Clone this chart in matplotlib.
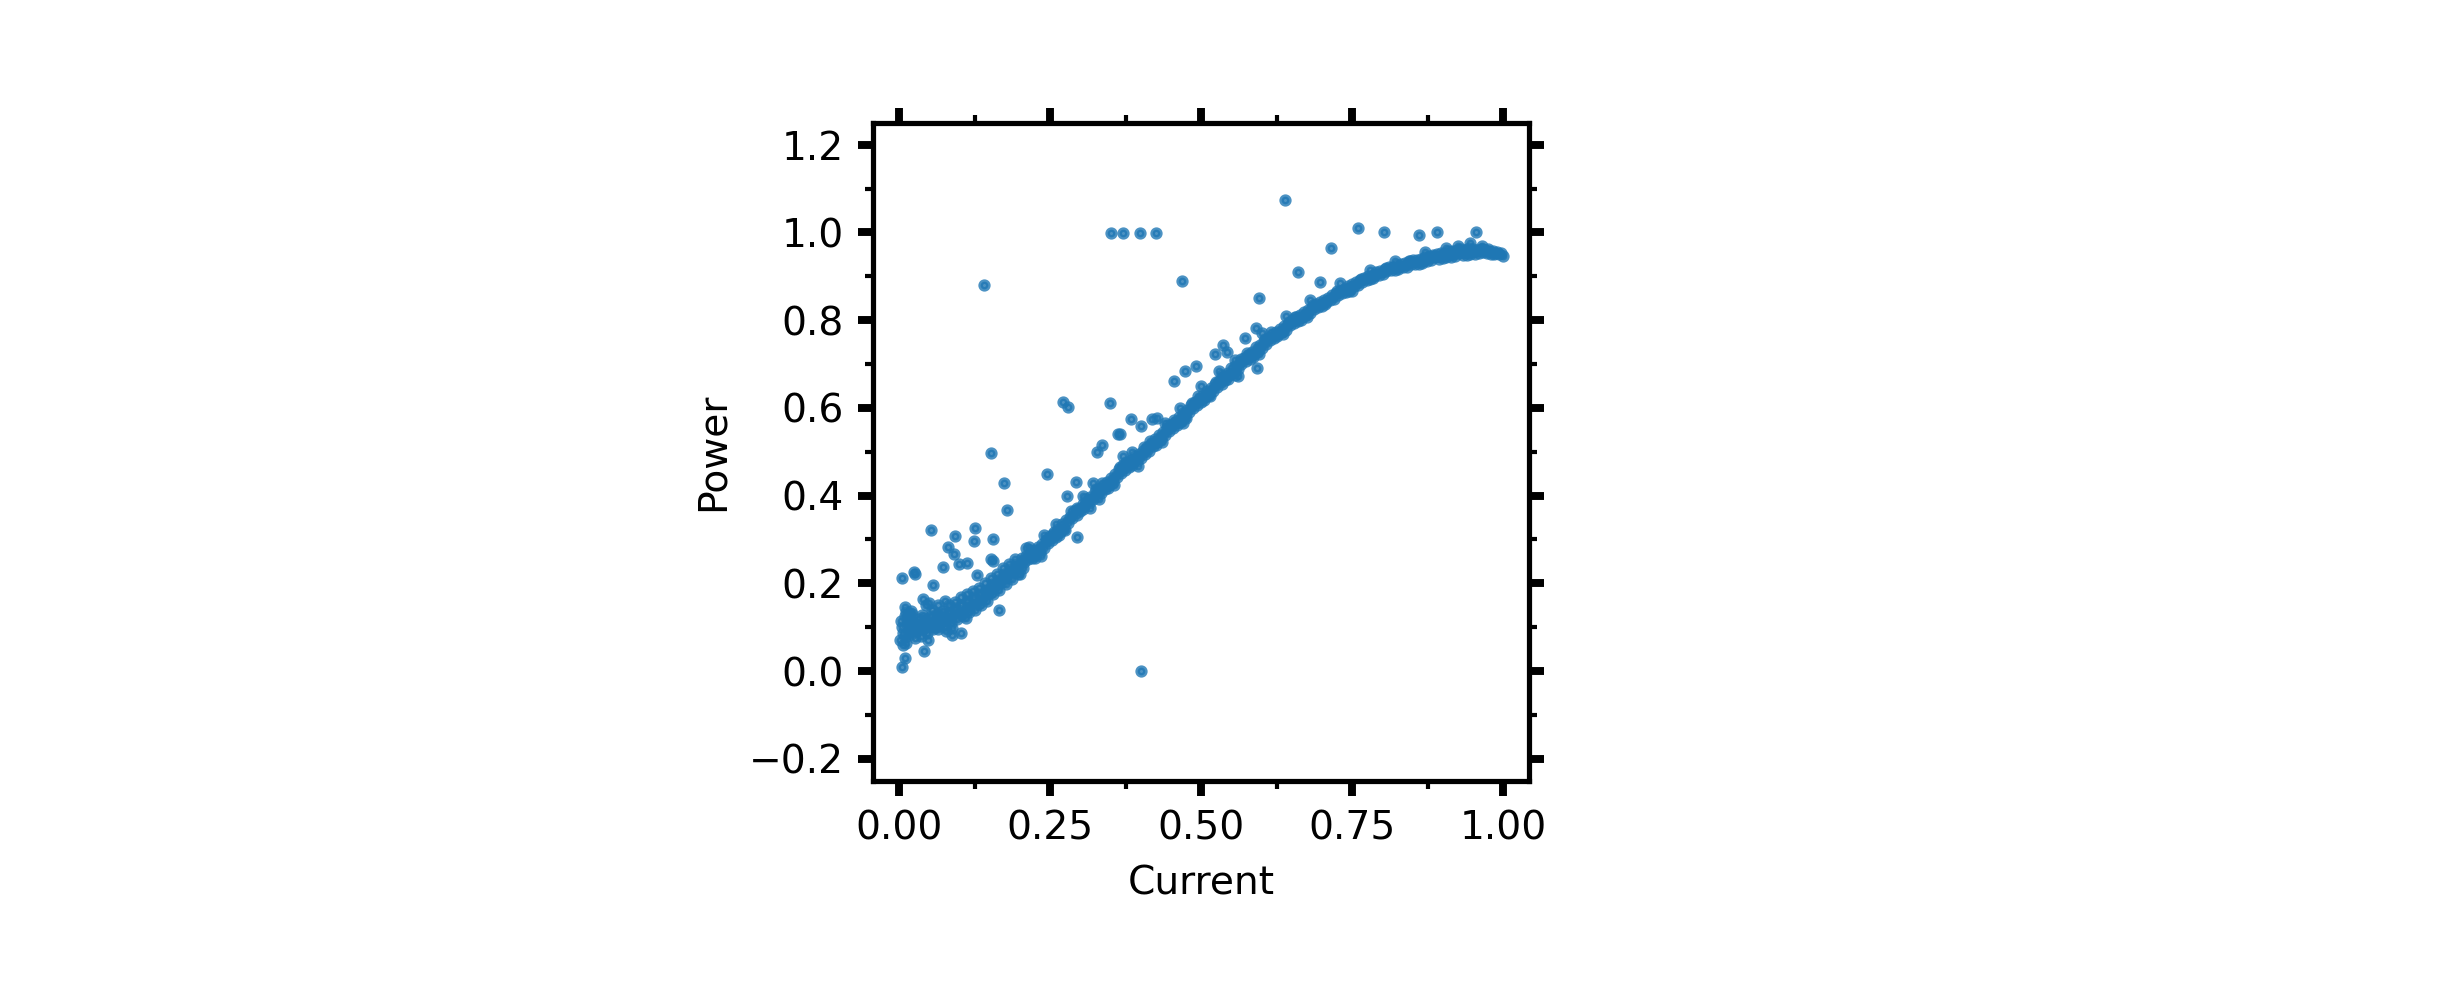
import matplotlib
matplotlib.use("Agg")
import matplotlib.pyplot as plt
from matplotlib.ticker import MultipleLocator

# ---- main band ----
band_current = [
    0.002, 0.004, 0.007, 0.003, 0.006, 0.009,
    0.010, 0.013, 0.016, 0.012, 0.015, 0.018,
    0.020, 0.023, 0.026, 0.022, 0.025, 0.028,
    0.030, 0.033, 0.036, 0.032, 0.035, 0.038,
    0.040, 0.043, 0.046, 0.042, 0.045, 0.048,
    0.050, 0.053, 0.056, 0.052, 0.055, 0.058,
    0.060, 0.063, 0.066, 0.062, 0.065, 0.068,
    0.070, 0.073, 0.076, 0.072, 0.075, 0.078,
    0.080, 0.083, 0.086, 0.082, 0.085, 0.088,
    0.090, 0.093, 0.096, 0.092, 0.095,
    0.100, 0.103, 0.106, 0.102, 0.105,
    0.110, 0.113, 0.116, 0.112, 0.115,
    0.120, 0.123, 0.126, 0.122, 0.125,
    0.130, 0.133, 0.136, 0.132, 0.135,
    0.140, 0.143, 0.146, 0.142, 0.145,
    0.150, 0.153, 0.156, 0.152, 0.155,
    0.160, 0.163, 0.166, 0.162, 0.165,
    0.170, 0.173, 0.176, 0.172, 0.175,
    0.180, 0.183, 0.186, 0.182, 0.185,
    0.190, 0.193, 0.196, 0.192, 0.195,
    0.200, 0.2035, 0.2065, 0.210, 0.2135, 0.2165,
    0.220, 0.2235, 0.2265, 0.230, 0.2335, 0.2365,
    0.240, 0.2435, 0.2465, 0.250, 0.2535, 0.2565,
    0.260, 0.2635, 0.2665, 0.270, 0.2735, 0.2765,
    0.280, 0.2835, 0.2865, 0.290, 0.2935, 0.2965,
    0.300, 0.3035, 0.3065, 0.310, 0.3135, 0.3165,
    0.320, 0.3235, 0.3265, 0.330, 0.3335, 0.3365,
    0.340, 0.3435, 0.3465, 0.350, 0.3535, 0.3565,
    0.360, 0.3635, 0.3665, 0.370, 0.3735, 0.3765,
    0.380, 0.3835, 0.3865, 0.390, 0.3935, 0.3965,
    0.400, 0.4035, 0.4065, 0.410, 0.4135, 0.4165,
    0.420, 0.4235, 0.4265, 0.430, 0.4335, 0.4365,
    0.440, 0.4435, 0.4465, 0.450, 0.4535, 0.4565,
    0.460, 0.4635, 0.4665, 0.470, 0.4735, 0.4765,
    0.480, 0.4835, 0.4865, 0.490, 0.4935, 0.4965,
    0.500, 0.5035, 0.5065, 0.510, 0.5135, 0.5165,
    0.520, 0.5235, 0.5265, 0.530, 0.5335, 0.5365,
    0.540, 0.5435, 0.5465, 0.550, 0.5535, 0.5565,
    0.560, 0.5635, 0.5665, 0.570, 0.5735, 0.5765,
    0.580, 0.5835, 0.5865, 0.590, 0.5935, 0.5965,
    0.600, 0.6035, 0.6065, 0.610, 0.6135, 0.6165,
    0.620, 0.6235, 0.6265, 0.630, 0.6335, 0.6365,
    0.640, 0.6435, 0.6465, 0.650, 0.6535, 0.6565,
    0.660, 0.6635, 0.6665, 0.670, 0.6735, 0.6765,
    0.680, 0.6835, 0.6865, 0.690, 0.6935, 0.6965,
    0.700, 0.7035, 0.7065, 0.710, 0.7135, 0.7165,
    0.720, 0.7235, 0.7265, 0.730, 0.7335, 0.7365,
    0.740, 0.7435, 0.7465, 0.750, 0.7535, 0.7565,
    0.760, 0.7635, 0.7665, 0.770, 0.7735, 0.7765,
    0.780, 0.7835, 0.7865, 0.790, 0.7935, 0.7965,
    0.800, 0.8035, 0.8065, 0.810, 0.8135, 0.8165,
    0.820, 0.8235, 0.8265, 0.830, 0.8335, 0.8365,
    0.840, 0.8435, 0.8465, 0.850, 0.8535, 0.8565,
    0.860, 0.8635, 0.8665, 0.870, 0.8735, 0.8765,
    0.880, 0.8835, 0.8865, 0.890, 0.8935, 0.8965,
    0.900, 0.9035, 0.9065, 0.910, 0.9135, 0.9165,
    0.920, 0.9235, 0.9265, 0.930, 0.9335, 0.9365,
    0.940, 0.9435, 0.9465, 0.950, 0.9535, 0.9565,
    0.960, 0.9635, 0.9665, 0.970, 0.9735, 0.9765,
    0.980, 0.9835, 0.9865, 0.990, 0.9935, 0.9965,
    1.000,
]
band_power = [
    0.070, 0.100, 0.060, 0.115, 0.088, 0.125,
    0.078, 0.108, 0.090, 0.065, 0.120, 0.100,
    0.085, 0.112, 0.075, 0.130, 0.098, 0.105,
    0.092, 0.118, 0.080, 0.105, 0.098, 0.128,
    0.095, 0.112, 0.088, 0.122, 0.100, 0.070,
    0.100, 0.125, 0.095, 0.112, 0.140, 0.105,
    0.100, 0.122, 0.108, 0.130, 0.095, 0.118,
    0.112, 0.128, 0.100, 0.138, 0.118, 0.092,
    0.118, 0.135, 0.110, 0.150, 0.125, 0.098,
    0.125, 0.145, 0.118, 0.158, 0.135,
    0.132, 0.150, 0.125, 0.168, 0.140,
    0.140, 0.160, 0.135, 0.175, 0.150,
    0.148, 0.168, 0.140, 0.182, 0.158,
    0.152, 0.175, 0.150, 0.190, 0.165,
    0.165, 0.185, 0.160, 0.200, 0.178,
    0.178, 0.198, 0.175, 0.212, 0.190,
    0.190, 0.208, 0.185, 0.222, 0.200,
    0.202, 0.222, 0.198, 0.235, 0.212,
    0.215, 0.232, 0.210, 0.245, 0.225,
    0.228, 0.245, 0.222, 0.255, 0.238,
    0.240, 0.258, 0.248, 0.262, 0.255, 0.270,
    0.258, 0.276, 0.268, 0.282, 0.272, 0.290,
    0.280, 0.298, 0.292, 0.308, 0.298, 0.316,
    0.306, 0.325, 0.318, 0.336, 0.325, 0.345,
    0.338, 0.352, 0.348, 0.365, 0.355, 0.370,
    0.366, 0.382, 0.376, 0.392, 0.384, 0.398,
    0.392, 0.408, 0.400, 0.416, 0.406, 0.422,
    0.415, 0.432, 0.425, 0.440, 0.430, 0.450,
    0.442, 0.460, 0.452, 0.470, 0.458, 0.472,
    0.466, 0.482, 0.476, 0.490, 0.480, 0.494,
    0.486, 0.502, 0.496, 0.510, 0.502, 0.518,
    0.512, 0.528, 0.522, 0.538, 0.530, 0.545,
    0.538, 0.555, 0.548, 0.562, 0.554, 0.568,
    0.562, 0.580, 0.572, 0.588, 0.580, 0.595,
    0.590, 0.606, 0.600, 0.614, 0.606, 0.620,
    0.614, 0.630, 0.624, 0.638, 0.630, 0.645,
    0.638, 0.655, 0.648, 0.662, 0.654, 0.670,
    0.664, 0.680, 0.674, 0.690, 0.682, 0.696,
    0.688, 0.705, 0.700, 0.714, 0.706, 0.720,
    0.712, 0.728, 0.722, 0.738, 0.730, 0.744,
    0.737, 0.752, 0.746, 0.760, 0.754, 0.766,
    0.760, 0.774, 0.768, 0.780, 0.774, 0.786,
    0.778, 0.792, 0.788, 0.800, 0.793, 0.806,
    0.797, 0.812, 0.806, 0.818, 0.812, 0.824,
    0.816, 0.830, 0.826, 0.836, 0.830, 0.842,
    0.832, 0.846, 0.842, 0.851, 0.846, 0.858,
    0.849, 0.862, 0.858, 0.867, 0.862, 0.872,
    0.865, 0.878, 0.874, 0.883, 0.878, 0.888,
    0.880, 0.892, 0.888, 0.897, 0.891, 0.900,
    0.893, 0.904, 0.900, 0.909, 0.903, 0.912,
    0.905, 0.916, 0.912, 0.920, 0.914, 0.922,
    0.915, 0.926, 0.921, 0.929, 0.922, 0.930,
    0.922, 0.934, 0.929, 0.936, 0.928, 0.938,
    0.929, 0.940, 0.935, 0.944, 0.934, 0.946,
    0.936, 0.948, 0.943, 0.951, 0.940, 0.953,
    0.942, 0.954, 0.949, 0.957, 0.945, 0.958,
    0.946, 0.960, 0.953, 0.962, 0.948, 0.959,
    0.949, 0.964, 0.956, 0.963, 0.950, 0.960,
    0.952, 0.962, 0.956, 0.960, 0.953, 0.958,
    0.951, 0.958, 0.954, 0.956, 0.950, 0.953,
    0.947,
]

# ---- second row of the band (adds thickness) ----
band2_current = [0.205, 0.225, 0.245, 0.265, 0.285, 0.305, 0.325, 0.345, 0.365,
                 0.385, 0.405, 0.425, 0.445, 0.465, 0.485, 0.505, 0.525, 0.545,
                 0.565, 0.585, 0.605, 0.625, 0.645, 0.665, 0.685, 0.705, 0.725,
                 0.745, 0.765, 0.785, 0.805, 0.825, 0.845, 0.865, 0.885, 0.905,
                 0.925, 0.945, 0.965, 0.985]
band2_power = [0.236, 0.258, 0.300, 0.311, 0.364, 0.369, 0.414, 0.418, 0.466,
               0.469, 0.510, 0.515, 0.560, 0.567, 0.611, 0.617, 0.659, 0.666,
               0.711, 0.716, 0.758, 0.764, 0.796, 0.800, 0.834, 0.836, 0.866,
               0.867, 0.894, 0.895, 0.918, 0.917, 0.935, 0.930, 0.947, 0.944,
               0.957, 0.951, 0.961, 0.950]

# ---- third row, wider spread in the middle of the curve ----
band3_current = [0.215, 0.235, 0.255, 0.275, 0.295, 0.315, 0.335, 0.355, 0.375,
                 0.395, 0.415, 0.435, 0.455, 0.475, 0.495, 0.515, 0.535, 0.555,
                 0.575, 0.595, 0.615, 0.635, 0.655, 0.675]
band3_power = [0.282, 0.262, 0.312, 0.322, 0.372, 0.372, 0.428, 0.424, 0.476,
               0.468, 0.524, 0.522, 0.572, 0.578, 0.626, 0.626, 0.676, 0.676,
               0.724, 0.722, 0.772, 0.768, 0.808, 0.808]

# ---- mild scatter just off the band ----
near_current = [0.210, 0.240, 0.260, 0.305, 0.370, 0.385, 0.440, 0.465, 0.500,
                0.530, 0.555, 0.600, 0.640, 0.680, 0.730, 0.780, 0.820, 0.870,
                0.905, 0.925, 0.945, 0.965, 0.975, 0.200, 0.330, 0.470, 0.560,
                0.750, 0.020, 0.045, 0.075, 0.110]
near_power = [0.280, 0.310, 0.335, 0.400, 0.490, 0.500, 0.565, 0.600, 0.650,
              0.685, 0.710, 0.770, 0.810, 0.845, 0.885, 0.915, 0.935, 0.955,
              0.965, 0.970, 0.975, 0.970, 0.962, 0.222, 0.392, 0.565, 0.672,
              0.866, 0.138, 0.150, 0.160, 0.120]

# ---- outliers ----
outlier_current = [0.638, 0.350, 0.370, 0.399, 0.425, 0.140, 0.468, 0.759, 0.802,
                   0.714, 0.860, 0.890, 0.955, 0.660, 0.696, 0.596, 0.590, 0.572,
                   0.536, 0.542, 0.523, 0.491, 0.473, 0.455, 0.592, 0.271, 0.280,
                   0.349, 0.384, 0.400, 0.419, 0.427, 0.362, 0.366, 0.336, 0.327,
                   0.152, 0.245, 0.293, 0.321, 0.174, 0.178, 0.278, 0.052, 0.092,
                   0.125, 0.124, 0.156, 0.081, 0.091, 0.113, 0.099, 0.073, 0.025,
                   0.026, 0.005, 0.056, 0.152, 0.155, 0.129, 0.166, 0.295, 0.041,
                   0.005, 0.009, 0.400, 0.102, 0.088, 0.010, 0.012, 0.018, 0.039,
                   0.050, 0.065]
outlier_power = [1.073, 0.999, 0.999, 0.999, 0.999, 0.879, 0.890, 1.011, 1.002,
                 0.965, 0.994, 1.000, 1.002, 0.909, 0.888, 0.851, 0.782, 0.760,
                 0.744, 0.728, 0.723, 0.696, 0.684, 0.662, 0.690, 0.614, 0.601,
                 0.611, 0.574, 0.559, 0.574, 0.577, 0.540, 0.540, 0.515, 0.499,
                 0.498, 0.450, 0.430, 0.429, 0.428, 0.367, 0.400, 0.322, 0.309,
                 0.327, 0.297, 0.301, 0.282, 0.266, 0.247, 0.245, 0.238, 0.226,
                 0.222, 0.213, 0.196, 0.255, 0.251, 0.219, 0.140, 0.305, 0.046,
                 0.010, 0.031, 0.000, 0.088, 0.083, 0.146, 0.135, 0.125, 0.164,
                 0.156, 0.151]

current = band_current + band2_current + band3_current + near_current + outlier_current
power = band_power + band2_power + band3_power + near_power + outlier_power

plt.rcParams['font.family'] = ['DejaVu Sans']
plt.rcParams['font.size'] = 9.4

fig = plt.figure(figsize=(2456 / 300, 1000 / 300), dpi=300)
ax = fig.add_axes([0.3553, 0.2192, 0.2674, 0.6581])

ax.scatter(current, power, s=3.4, linewidths=1.1, color='#1f77b4',
           edgecolors='face', alpha=0.8)

ax.set_xlim(-0.044, 1.043)
ax.set_ylim(-0.25, 1.25)
ax.xaxis.set_minor_locator(MultipleLocator(0.125))
ax.yaxis.set_minor_locator(MultipleLocator(0.1))
ax.set_xticks([0.0, 0.25, 0.5, 0.75, 1.0])
ax.set_xticklabels(['0.00', '0.25', '0.50', '0.75', '1.00'])
ax.set_yticks([-0.2, 0.0, 0.2, 0.4, 0.6, 0.8, 1.0, 1.2])
ax.set_yticklabels(['\u22120.2', '0.0', '0.2', '0.4', '0.6', '0.8', '1.0', '1.2'])

ax.tick_params(which='both', direction='out', top=True, right=True,
               labeltop=False, labelright=False)
ax.tick_params(which='major', length=3.5, width=1.9, labelsize=9.4)
ax.tick_params(which='minor', length=2.0, width=1.0)
for sp in ax.spines.values():
    sp.set_linewidth(1.25)

ax.set_xlabel('Current', fontsize=9.4)
ax.set_ylabel('Power', fontsize=9.4)

fig.savefig('out.png', dpi=300)
